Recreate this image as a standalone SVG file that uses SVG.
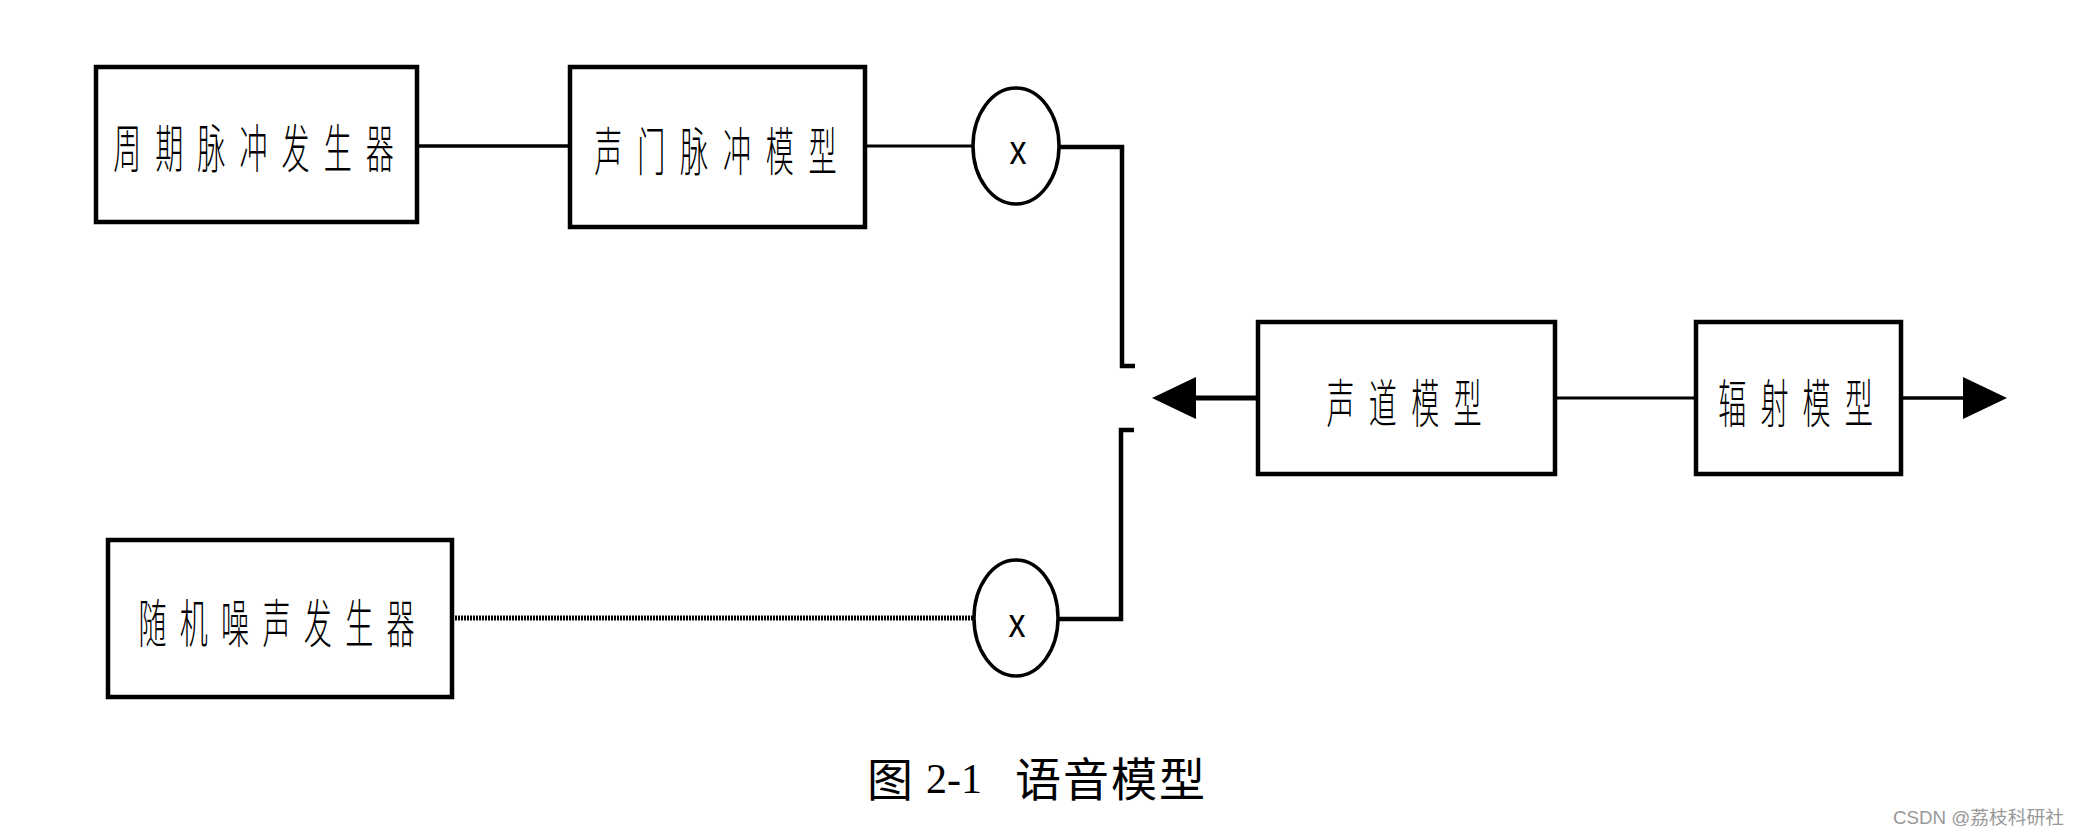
<svg xmlns="http://www.w3.org/2000/svg" width="2080" height="835" viewBox="0 0 2080 835">
<style>
.box{fill:#fff;stroke:#000;stroke-width:4.5}
.lbl{font-family:"Noto Sans CJK SC","Liberation Sans",sans-serif;font-size:52px;font-weight:300;fill:#000;text-anchor:middle;dominant-baseline:central}
.mul{fill:#fff;stroke:#000;stroke-width:3.5}
.x{font-family:"Liberation Sans",sans-serif;font-size:40px;fill:#000;text-anchor:middle}
.ln{fill:none;stroke:#000;stroke-linejoin:miter;stroke-linecap:butt}
.cap{font-family:"Noto Sans CJK SC",sans-serif;font-size:46px;fill:#000}
</style>
<defs>
<marker id="ah" markerUnits="userSpaceOnUse" markerWidth="46" markerHeight="44" refX="0" refY="21" orient="auto">
<path d="M0,0 L44,21 L0,42 Z" fill="#000"/>
</marker>
</defs>
<rect width="2080" height="835" fill="#fff"/>
<g id="connectors">
<line class="ln" x1="417" y1="146" x2="570" y2="146" stroke-width="3.3"/>
<line class="ln" x1="865" y1="146" x2="973" y2="146" stroke-width="3"/>
<path class="ln" d="M1059 147 H1122 V366 H1135" stroke-width="4.5"/>
<line class="ln" x1="452" y1="618" x2="973" y2="618" stroke-width="5" stroke-dasharray="2 1"/>
<path class="ln" d="M1058 619 H1121 V430 H1134" stroke-width="4.5"/>
<line class="ln" x1="1258" y1="398" x2="1196" y2="398" stroke-width="5" marker-end="url(#ah)"/>
<line class="ln" x1="1555" y1="398" x2="1696" y2="398" stroke-width="3"/>
<line class="ln" x1="1901" y1="398" x2="1963" y2="398" stroke-width="3.5" marker-end="url(#ah)"/>
</g>
<g id="periodic-pulse-generator">
<rect class="box" x="96" y="67" width="321" height="155"/>
<text class="lbl" transform="translate(253.5 146) scale(0.54 1)" x="13" letter-spacing="26">周期脉冲发生器</text>
</g>
<g id="glottal-pulse-model">
<rect class="box" x="570" y="67" width="295" height="160"/>
<text class="lbl" transform="translate(715.5 149) scale(0.54 1)" x="13.7" letter-spacing="27.4">声门脉冲模型</text>
</g>
<g id="multiplier-1">
<ellipse class="mul" cx="1016" cy="146" rx="43" ry="58"/>
<text class="x" transform="translate(1018 164) scale(0.85 1)">x</text>
</g>
<g id="random-noise-generator">
<rect class="box" x="108" y="540" width="344" height="157"/>
<text class="lbl" transform="translate(276.5 621) scale(0.54 1)" x="12.3" letter-spacing="24.6">随机噪声发生器</text>
</g>
<g id="multiplier-2">
<ellipse class="mul" cx="1016" cy="618" rx="42" ry="58"/>
<text class="x" transform="translate(1017 637) scale(0.85 1)">x</text>
</g>
<g id="vocal-tract-model">
<rect class="box" x="1258" y="322" width="297" height="152"/>
<text class="lbl" transform="translate(1404 401) scale(0.54 1)" x="13.2" letter-spacing="26.5">声道模型</text>
</g>
<g id="radiation-model">
<rect class="box" x="1696" y="322" width="205" height="152"/>
<text class="lbl" transform="translate(1795.5 401) scale(0.54 1)" x="13" letter-spacing="26">辐射模型</text>
</g>
<g id="caption">
<text class="cap" x="890" y="776" text-anchor="middle" dominant-baseline="central">图</text>
<text x="926" y="793" font-family="Liberation Serif,serif" font-size="42" fill="#000">2-1</text>
<text class="cap" x="1111" y="776" text-anchor="middle" dominant-baseline="central" letter-spacing="2">语音模型</text>
</g>
<text x="1893" y="824" font-family="Liberation Sans,Noto Sans CJK SC,sans-serif" font-size="18" fill="#999" textLength="171" lengthAdjust="spacingAndGlyphs">CSDN @荔枝科研社</text>
</svg>
